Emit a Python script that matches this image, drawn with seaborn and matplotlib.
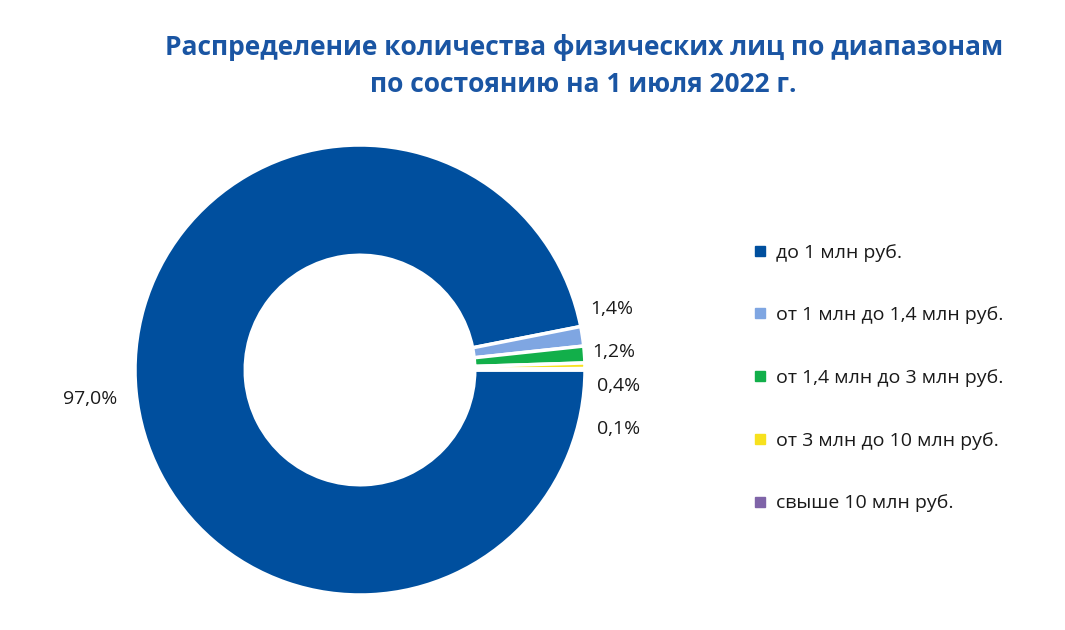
import matplotlib
matplotlib.use('Agg')
import matplotlib.pyplot as plt
from matplotlib.lines import Line2D
import seaborn as sns

sns.set_theme(style='white', font='Open Sans')

categories = ['до 1 млн руб.', 'от 1 млн до 1,4 млн руб.', 'от 1,4 млн до 3 млн руб.',
              'от 3 млн до 10 млн руб.', 'свыше 10 млн руб.']
shares = [97.0, 1.4, 1.2, 0.4, 0.1]
share_labels = ['97,0%', '1,4%', '1,2%', '0,4%', '0,1%']
colors = ['#004f9e', '#7fa6e2', '#12af4a', '#f7e11e', '#7f64a8']

fig = plt.figure(figsize=(10.65, 6.3), dpi=100)
ax = fig.add_axes([135 / 1065, 35 / 630, 450 / 1065, 450 / 630])
ax.pie(shares, colors=colors, startangle=0, counterclock=False,
       wedgeprops=dict(width=0.49, edgecolor='white', linewidth=2.5))
ax.set_xlim(-1, 1)
ax.set_ylim(-1, 1)
ax.set_aspect('equal')

# label anchor points (pie radius = 1)
label_pos = [(-1.2, -0.13), (1.12, 0.27), (1.13, 0.08), (1.15, -0.07), (1.15, -0.26)]
for (x, y), s in zip(label_pos, share_labels):
    ax.text(x, y, s, ha='center', va='center', fontsize=14, color='#1a1a1a')

fig.text(0.548, 0.895, 'Распределение количества физических лиц по диапазонам\nпо состоянию на 1 июля 2022 г.',
         ha='center', va='center', fontsize=19, fontweight='bold', color='#1a55a3', linespacing=1.5)

handles = [Line2D([0], [0], marker='s', linestyle='', markersize=7, markerfacecolor=c, markeredgecolor=c)
           for c in colors]
fig.legend(handles, categories, loc='center left', bbox_to_anchor=(0.69, 0.4), frameon=False,
           fontsize=14, labelspacing=2.3, handletextpad=0.4, handlelength=0.8,
           labelcolor='#1a1a1a')

fig.savefig('out.png', dpi=100)
